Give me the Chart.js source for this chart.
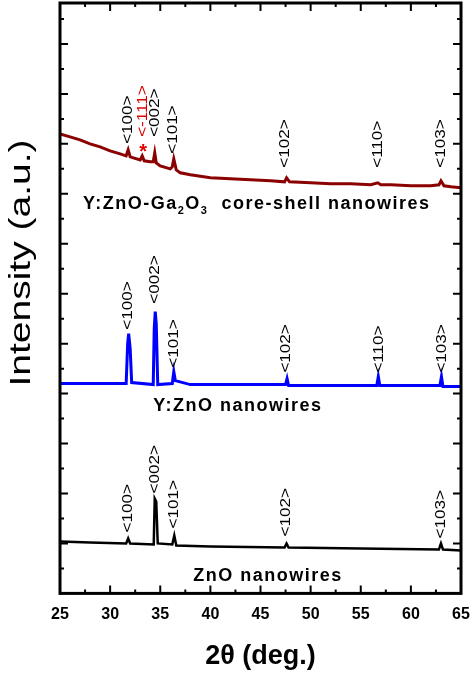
<!DOCTYPE html>
<html><head><meta charset="utf-8">
<script src="https://cdn.jsdelivr.net/npm/chart.js@4"></script>
<style>body{margin:0;background:#fff}#w{width:474px;height:681px}</style></head>
<body><div id="w"><canvas id="c"></canvas></div>
<script>
const coreShell = [[25,460],[26,457],[27,454],[28,450],[29,447],[30,443],[31,440],[31.6,438],[31.8,444],[32,437],[33,434],[33.2,438],[33.4,433],[34,432],[34.3,432],[34.45,441],[34.6,431],[35,428],[36,425],[36.2,427],[36.35,435],[36.6,424],[37,421],[38,419],[40,416],[42,415],[44,414],[46,413],[47.4,412],[47.6,416],[47.9,412],[50,411],[52,410],[54,410],[56,409],[56.7,411],[57,409],[58,409],[60,408],[62,408],[62.8,409],[63,413],[63.3,408],[64,407],[65,406]];
const yzno = [[25,210],[28,210],[31.6,210],[31.75,250],[31.85,260],[32,245],[32.15,211],[34.3,209],[34.4,265],[34.5,282],[34.6,270],[34.75,209],[36.2,210],[36.35,222],[36.5,213],[38,209],[40,209],[47.5,209],[47.65,215],[47.8,208],[50,208],[56.6,208],[56.75,217],[56.9,208],[60,208],[62.9,208],[63.05,217],[63.2,207],[65,207]];
const zno = [[25,52],[28,51],[31.6,50],[31.8,55],[32,50],[34.35,49],[34.45,95],[34.6,92],[34.75,50],[36.2,49],[36.4,58],[36.6,48],[40,47],[47.4,46],[47.6,50],[47.8,46],[55,45],[62.8,44],[63,50],[63.2,44],[65,43]];
const peakLabels = [
 ["<100>",31.8,450,"#000"],["<-111>",33.3,457,"#e00000"],["<002>",34.5,457,"#000"],["<101>",36.3,440,"#000"],["<102>",47.5,426,"#000"],["<110>",56.7,426,"#000"],["<103>",63,426,"#000"],
 ["<100>",31.8,264,"#000"],["<002>",34.5,290,"#000"],["<101>",36.4,226,"#000"],["<102>",47.6,221,"#000"],["<110>",56.8,221,"#000"],["<103>",63.1,221,"#000"],
 ["<100>",31.8,61,"#000"],["<002>",34.5,100,"#000"],["<101>",36.4,65,"#000"],["<102>",47.6,57,"#000"],["<103>",63,55,"#000"]];
const seriesLabels = [["Y:ZnO-Ga","2","O","3","  core-shell nanowires",27.3,385],["Y:ZnO nanowires",null,null,null,null,34.3,183],["ZnO nanowires",null,null,null,null,38.3,12]];
const xTicks = [25,30,35,40,45,50,55,60,65];

const toPts = a => a.map(p=>({x:p[0],y:p[1]}));
const deco = {id:'deco', afterDatasetsDraw(ch){
 const c=ch.ctx,x=ch.scales.x,y=ch.scales.y,a=ch.chartArea;
 c.save();c.strokeStyle='#000';c.lineWidth=3;c.strokeRect(a.left,a.top,a.right-a.left,a.bottom-a.top);
 c.lineWidth=2;
 for(let v=25;v<=65;v+=2.5){const px=x.getPixelForValue(v),L=(v%5===0)?8:4;
  c.beginPath();c.moveTo(px,a.bottom);c.lineTo(px,a.bottom-L);c.moveTo(px,a.top);c.lineTo(px,a.top+L);c.stroke();}
 for(let v=25;v<591;v+=25){const py=y.getPixelForValue(v),L=(v%50===0)?8:4;
  c.beginPath();c.moveTo(a.left,py);c.lineTo(a.left+L,py);c.moveTo(a.right,py);c.lineTo(a.right-L,py);c.stroke();}
 c.font='14px "Liberation Sans", Arial';c.textBaseline='middle';c.textAlign='left';
 peakLabels.forEach(l=>{const px=x.getPixelForValue(l[1]),py=y.getPixelForValue(l[2]);
  c.save();c.translate(px,py);c.rotate(-Math.PI/2);c.scale(1.22,1);c.fillStyle=l[3];c.fillText(l[0],0,0);c.restore();});
 c.fillStyle='#e00000';c.font='bold 20px "Liberation Sans"';c.textAlign='center';
 c.fillText('*',x.getPixelForValue(33.3),y.getPixelForValue(445)+4);
 c.fillStyle='#000';c.textAlign='left';c.textBaseline='alphabetic';
 c.letterSpacing='1.5px';
 const B='bold 18px "Liberation Sans"',S='bold 11px "Liberation Sans"';
 seriesLabels.forEach(s=>{let px=x.getPixelForValue(s[5]),py=y.getPixelForValue(s[6]);
  c.font=B;c.fillText(s[0],px,py);px+=c.measureText(s[0]).width;
  if(s[1]){c.font=S;c.fillText(s[1],px,py+5);px+=c.measureText(s[1]).width;
   c.font=B;c.fillText(s[2],px,py);px+=c.measureText(s[2]).width;
   c.font=S;c.fillText(s[3],px,py+5);px+=c.measureText(s[3]).width;
   c.font=B;c.fillText(s[4],px,py);}
 });
 c.letterSpacing='0px';
 c.save();c.translate(22,263);c.rotate(-Math.PI/2);c.scale(1.3,1);
 c.font='30px "Liberation Sans"';c.textAlign='center';c.textBaseline='middle';c.fillText('Intensity (a.u.)',0,0);c.restore();
 c.restore();}};
new Chart(document.getElementById('c'),{type:'line',
 data:{datasets:[
  {data:toPts(coreShell),borderColor:'#8b0000',borderWidth:3,pointRadius:0,tension:0},
  {data:toPts(yzno),borderColor:'#0000ff',borderWidth:3,pointRadius:0,tension:0},
  {data:toPts(zno),borderColor:'#000',borderWidth:2.5,pointRadius:0,tension:0}]},
 options:{responsive:true,maintainAspectRatio:false,animation:false,
  layout:{padding:{top:3,right:13,left:52,bottom:2}},
  plugins:{legend:{display:false},tooltip:{enabled:false}},
  scales:{
   x:{type:'linear',min:25,max:65,afterBuildTicks:s=>{s.ticks=xTicks.map(v=>({value:v}));},
    grid:{display:false},border:{display:false},
    ticks:{color:'#000',font:{size:16,weight:'bold',family:'"Liberation Sans"'},padding:4},
    title:{display:true,text:'2θ (deg.)',color:'#000',font:{size:27,weight:'bold',family:'"Liberation Sans"'},padding:{top:12,bottom:6}}},
   y:{min:0,max:591,grid:{display:false},border:{display:false},ticks:{display:false},title:{display:false}}}},
 plugins:[deco]});
</script></body></html>
